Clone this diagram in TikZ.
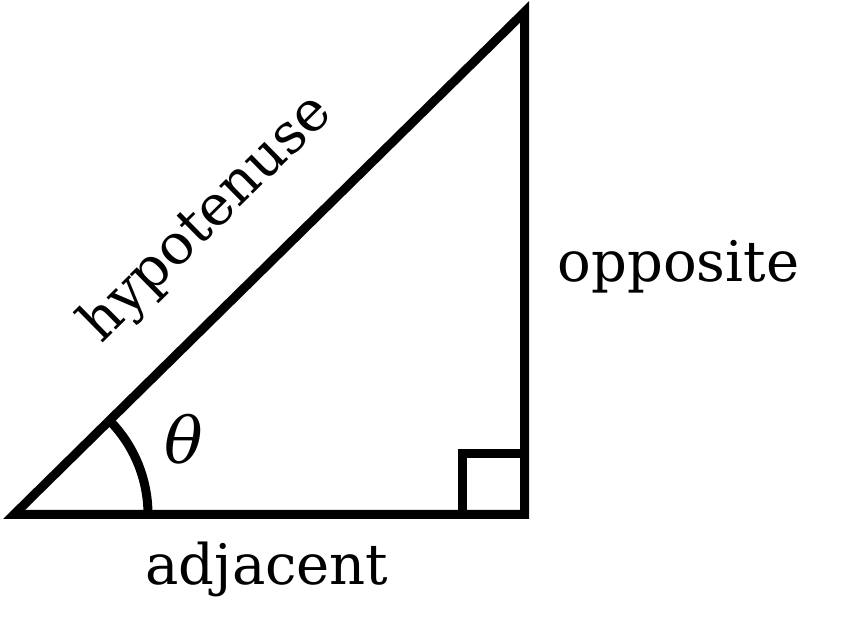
\documentclass[tikz,border=0pt]{standalone}
\usepackage{fontspec}
\setmainfont{DejaVu Serif}
\usetikzlibrary{calc, positioning}
\tikzset{
  side/.style={draw, line width=9pt, line join=miter},
  lbl/.style={font=\fontsize{56}{60}\selectfont, inner sep=0pt, outer sep=0pt},
  anglelbl/.style={font=\fontsize{64}{66}\selectfont\itshape, inner sep=0pt}
}

\begin{document}
\begin{tikzpicture}[x=1pt, y=1pt]
  \useasboundingbox (0,0) rectangle (844,642);

  \coordinate (a) at (14,127.5);
  \coordinate (b) at (524.5,127.5);
  \coordinate (c) at (524.5,630);

  \draw[side] (a) -- (b) -- (c) -- cycle;
  %
  \draw[side] ($(b)+(-62.5,0)$) -- ++(0,61) -- ++(62.5,0);
  \draw[side] ($(a)+(134,0)$) arc[start angle=0, end angle=44.55, radius=134];

  \node[anglelbl] (theta) at (183.5,203) {θ};
  \node[lbl, anchor=base] (adj) at (267,57) {adjacent};
  \node[lbl, anchor=base] (opp) at (678.5,360) {opposite};

  \coordinate (hmid) at ($(a)!0.482!(c)$);
  \node[lbl, anchor=base, rotate=44.55] (hyp) at ($(hmid)!60pt!90:(c)$) {hypotenuse};
\end{tikzpicture}
\end{document}
